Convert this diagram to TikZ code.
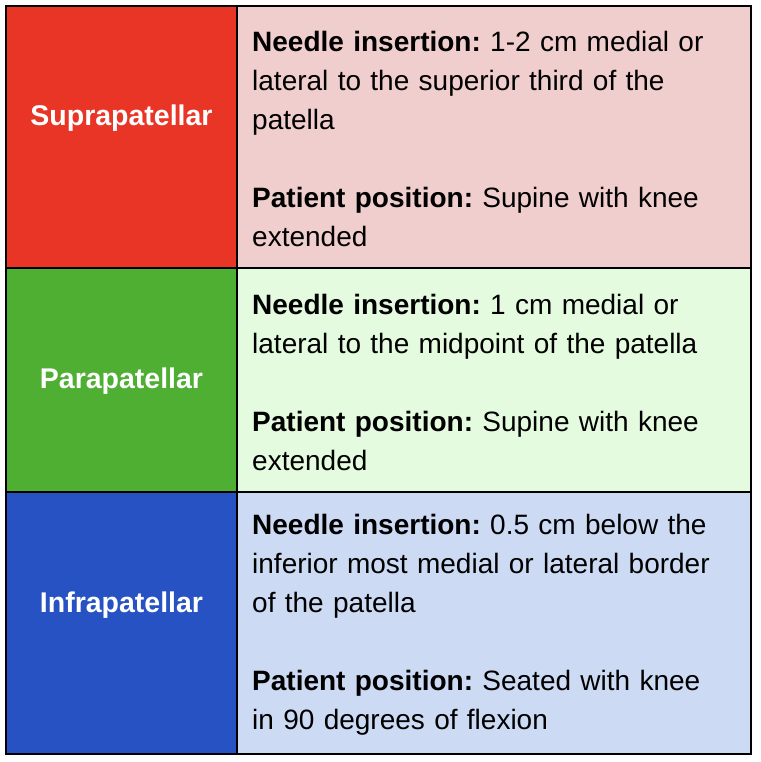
\documentclass[tikz,border=0pt]{standalone}
\usepackage{fontspec}
\setmainfont{Liberation Sans}
\definecolor{cred}{HTML}{E93526}
\definecolor{cgreen}{HTML}{4EAF33}
\definecolor{cblue}{HTML}{2752C4}
\definecolor{lred}{HTML}{EFCECD}
\definecolor{lgreen}{HTML}{E4FBE0}
\definecolor{lblue}{HTML}{CCDAF3}
\begin{document}
\frenchspacing
\begin{tikzpicture}[x=1pt,y=-1pt,
  cell/.style={draw=black,line width=1.5pt},
  lab/.style={text=white,font=\fontsize{28.5}{34}\selectfont\bfseries},
  body/.style={anchor=west,align=left,text width=495pt,inner sep=0pt,font=\fontsize{28}{39}\selectfont}]
\useasboundingbox (0,0) rectangle (760,762);
\fill[cred] (6,6) rectangle (237,268);
\fill[cgreen] (6,268) rectangle (237,492);
\fill[cblue] (6,492) rectangle (237,754);
\fill[lred] (237,6) rectangle (751,268);
\fill[lgreen] (237,268) rectangle (751,492);
\fill[lblue] (237,492) rectangle (751,754);
\draw[cell] (6,6) rectangle (751,754);
\draw[cell] (237,6) -- (237,754);
\draw[cell] (6,268) -- (751,268);
\draw[cell] (6,492) -- (751,492);
\node[lab] (l1) at (121.5,118) {Suprapatellar};
\node[lab] (l2) at (121.5,381) {Parapatellar};
\node[lab] (l3) at (121.5,605) {Infrapatellar};
\node[body] (b1) at (252,139) {\textbf{Needle insertion:} 1-2 cm medial or\\lateral to the superior third of the\\patella\\[39pt]\textbf{Patient position:} Supine with knee\\extended};
\node[body] (b2) at (252,382) {\textbf{Needle insertion:} 1 cm medial or\\lateral to the midpoint of the patella\\[39pt]\textbf{Patient position:} Supine with knee\\extended};
\node[body] (b3) at (252,625) {\textbf{Needle insertion:} 0.5 cm below the\\inferior most medial or lateral border\\of the patella\\[39pt]\textbf{Patient position:} Seated with knee\\in 90 degrees of flexion};
\end{tikzpicture}
\end{document}
